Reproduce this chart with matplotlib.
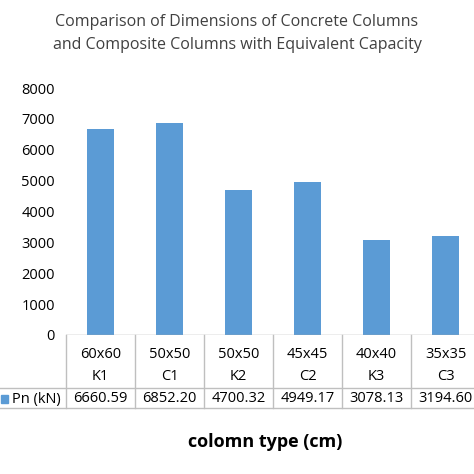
import matplotlib
matplotlib.use("Agg")
import matplotlib.pyplot as plt
from matplotlib import transforms as mtrans
from matplotlib.patches import Rectangle

plt.rcParams["font.family"] = ["Open Sans", "DejaVu Sans"]

sizes = ["60x60", "50x50", "50x50", "45x45", "40x40", "35x35"]
codes = ["K1", "C1", "K2", "C2", "K3", "C3"]
pn = [6660.59, 6852.20, 4700.32, 4949.17, 3078.13, 3194.60]
bar_color = "#5B9BD5"
grid = "#BFBFBF"

W = 474
fig = plt.figure(figsize=(4.74, 4.74), dpi=100)
# axes extends past the right edge, as in the cropped reference
left, right = 66 / W, 480 / W
bottom, top = 1 - 335 / W, 1 - 88 / W
ax = fig.add_axes([left, bottom, right - left, top - bottom])

x = list(range(len(pn)))
ax.bar(x, pn, width=0.4, color=bar_color, zorder=3)
ax.set_xlim(-0.5, len(pn) - 0.5)
ax.set_ylim(0, 8000)
ax.set_yticks(range(0, 8001, 1000))
ax.tick_params(axis="y", length=0, labelsize=10.5, pad=8)
ax.set_xticks([])
for s in ax.spines.values():
    s.set_visible(False)
ax.axhline(0, color="#A6A6A6", lw=1, zorder=4)

# data table below the axes
tr = mtrans.blended_transform_factory(ax.transData, fig.transFigure)
ftr = fig.transFigure
def fy(py):
    return 1 - py / W

y_top, y_mid, y_bot = fy(335), fy(388), fy(408)
for i in range(len(pn) + 1):
    ax.plot([i - 0.5, i - 0.5], [y_top, y_bot], transform=tr, color=grid,
            lw=1, clip_on=False)
ax.plot([0, 1], [y_mid, y_mid], transform=ftr, color=grid, lw=1, clip_on=False)
ax.plot([0, 1], [y_bot, y_bot], transform=ftr, color=grid, lw=1, clip_on=False)
for i in x:
    ax.text(i, fy(355), sizes[i], transform=tr, ha="center", va="center",
            fontsize=10.5, clip_on=False)
    ax.text(i, fy(377), codes[i], transform=tr, ha="center", va="center",
            fontsize=10.5, clip_on=False)
    ax.text(i, fy(399), f"{pn[i]:.2f}", transform=tr, ha="center",
            va="center", fontsize=10.5, clip_on=False)

fig.patches.append(Rectangle((1 / W, fy(403)), 7 / W, 8 / W,
                             transform=ftr, color=bar_color))
fig.text(12 / W, fy(399), "Pn (kN)", ha="left", va="center", fontsize=10.5)

fig.text(0.5, fy(22), "Comparison of Dimensions of Concrete Columns",
         ha="center", va="center", fontsize=11.5, color="#404040")
fig.text(0.5, fy(45), "and Composite Columns with Equivalent Capacity",
         ha="center", va="center", fontsize=11.5, color="#404040")
fig.text(0.56, fy(442), "colomn type (cm)", ha="center", va="center",
         fontsize=13, fontweight="bold")

fig.savefig("out.png", dpi=100)
